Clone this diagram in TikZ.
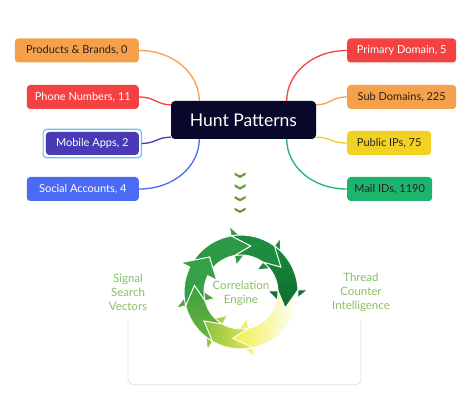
\documentclass[tikz,border=0pt]{standalone}
\usepackage{fontspec}
\setmainfont{Lato}
\usetikzlibrary{positioning}

\definecolor{huntnavy}{HTML}{08082B}
\definecolor{boxorange}{HTML}{F5A04A}
\definecolor{boxred}{HTML}{F44242}
\definecolor{boxindigo}{HTML}{4A3AB5}
\definecolor{boxblue}{HTML}{4B6BF5}
\definecolor{boxyellow}{HTML}{F2D125}
\definecolor{boxgreen}{HTML}{1DB46E}
\definecolor{inkdark}{HTML}{2B2118}
\definecolor{selblue}{HTML}{5BC8F5}
\definecolor{tagtext}{HTML}{86BF63}
\definecolor{chevgreen}{HTML}{6B9B37}
\definecolor{cycA}{HTML}{2E9944}
\definecolor{cycB}{HTML}{1E8B3E}
\definecolor{cycC}{HTML}{1A8A3C}
\definecolor{cycCdark}{HTML}{0E6B2E}
\definecolor{cycDyel}{HTML}{F0EE46}
\definecolor{cycEgrn}{HTML}{8CC043}
\definecolor{cycEyel}{HTML}{E2EA55}
\definecolor{cycFlow}{HTML}{6DB53C}
\definecolor{cycFtop}{HTML}{3E9F3F}
\definecolor{cycG}{HTML}{35A046}

\tikzset{
  every node/.style={font=\fontsize{11}{13}\selectfont},
  leaf/.style={rounded corners=3.5pt, minimum height=24pt, inner xsep=0pt},
  hub/.style={rounded corners=4pt, fill=huntnavy, text=white, minimum width=145pt,
    minimum height=38pt, font=\fontsize{17.5}{20}\selectfont},
  link/.style={line width=1.3pt},
  selframe/.style={draw=selblue, line width=1.2pt, rounded corners=3.5pt},
  tag/.style={text=tagtext, align=center, font=\fontsize{11.5}{14}\selectfont},
  chevron/.style={fill=chevgreen},
  bracket/.style={draw=black!12, line width=0.8pt, rounded corners=6pt},
  cycedge/.style={draw=white, line width=1pt},
}

\newcommand\cycseg[3]{%
  \fill[cycedge, #3]
    (#1+22:57) arc[start angle=#1+22, end angle=#2+22, radius=57]
    -- (#2+22:67) -- (#2:47) -- (#2+22:27) -- (#2+22:37)
    arc[start angle=#2+22, end angle=#1+22, radius=37]
    -- (#1:47) -- cycle;}

\begin{document}
\begin{tikzpicture}[x=1pt, y=1pt]
  \useasboundingbox (0,0) rectangle (474,412);

  \node[hub] (hunt) at (243.5,292) {Hunt Patterns};

  \node[leaf, fill=boxorange, text=inkdark, minimum width=124pt, anchor=east] (prod) at (139,361.5) {Products \& Brands, 0};
  \node[leaf, fill=boxred, text=white, minimum width=112pt, anchor=east] (phone) at (139,315) {Phone Numbers, 11};
  \node[leaf, fill=boxindigo, text=white, minimum width=93pt, minimum height=23pt, anchor=east] (mob) at (139,268.5) {Mobile Apps, 2};
  \node[leaf, fill=boxblue, text=white, minimum width=112pt, anchor=east] (soc) at (139,223) {Social Accounts, 4};

  \node[leaf, fill=boxred, text=white, minimum width=109pt, anchor=west] (prim) at (347,361.5) {Primary Domain, 5};
  \node[leaf, fill=boxorange, text=inkdark, minimum width=109pt, anchor=west] (sub) at (347,315) {Sub Domains, 225};
  \node[leaf, fill=boxyellow, text=inkdark, minimum width=84pt, anchor=west] (pubip) at (347,269) {Public IPs, 75};
  \node[leaf, fill=boxgreen, text=inkdark, minimum width=85pt, anchor=west] (mail) at (347,223) {Mail IDs, 1190};

  \draw[selframe] ([shift={(-2.5pt,-2.5pt)}]mob.south west) rectangle ([shift={(2.5pt,2.5pt)}]mob.north east);

  \draw[link, boxorange] (prod.east) .. controls +(36,0) and +(0,26) .. ([xshift=28.5pt]hunt.north west);
  \draw[link, boxred] (phone.east) .. controls +(16,0) and +(-14,0) .. ([yshift=-4pt]hunt.north west);
  \draw[link, boxindigo] ([xshift=2.5pt]mob.east) .. controls +(14,0) and +(-14,0) .. ([yshift=2pt]hunt.south west);
  \draw[link, boxblue] (soc.east) .. controls +(36,0) and +(0,-26) .. ([xshift=28.5pt]hunt.south west);

  \draw[link, boxred] (prim.west) .. controls +(-36,0) and +(0,26) .. ([xshift=-29.5pt]hunt.north east);
  \draw[link, boxorange] (sub.west) .. controls +(-16,0) and +(14,0) .. ([yshift=-4pt]hunt.north east);
  \draw[link, boxyellow] (pubip.west) .. controls +(-16,0) and +(14,0) .. ([yshift=2pt]hunt.south east);
  \draw[link, boxgreen] (mail.west) .. controls +(-36,0) and +(0,-26) .. ([xshift=-29.5pt]hunt.south east);

  \foreach \y in {237,225.3,213.6,201.9}
    \fill[chevron] (240,\y) ++(-5.5,2.5) -- ++(5.5,-3) -- ++(5.5,3) -- ++(0,-2.5) -- ++(-5.5,-3) -- ++(-5.5,3) -- cycle;

  \begin{scope}[shift={(241,120)}]
    \cycseg{132}{78}{fill=cycA}
    \cycseg{78}{32}{fill=cycB}
    \cycseg{32}{-20}{top color=cycC, bottom color=cycCdark}
    \cycseg{-20}{-100}{left color=cycDyel, right color=white}
    \cycseg{-100}{-142}{left color=cycEgrn, right color=cycEyel}
    \cycseg{-142}{-188}{top color=cycFtop, bottom color=cycFlow}
    \cycseg{-188}{-228}{fill=cycG}
  \end{scope}

  \node[tag] (engine) at (241,119) {Correlation\\Engine};
  \node[tag] (signal) at (128,120) {Signal\\Search\\Vectors};
  \node[tag] (thread) at (361,120) {Thread\\Counter\\Intelligence};

  \draw[bracket] ([yshift=-4pt]signal.south) -- ++(0,-67) -| ([yshift=-4pt]thread.south);
\end{tikzpicture}
\end{document}
